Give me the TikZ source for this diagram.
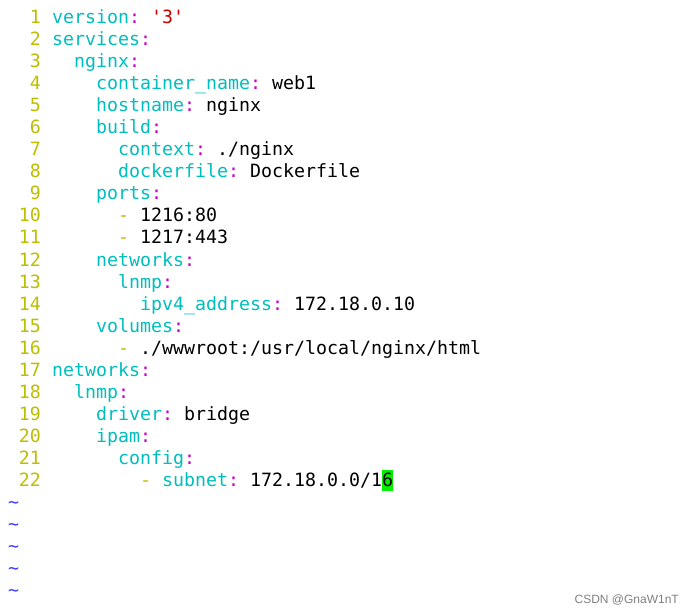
\documentclass[tikz,border=0pt]{standalone}
\usepackage{fontspec}
\setmonofont{DejaVu Sans Mono}
\setsansfont{Liberation Sans}
\definecolor{ky}{RGB}{0,190,190}
\definecolor{ln}{RGB}{190,190,0}
\definecolor{mg}{RGB}{200,0,200}
\definecolor{rd}{RGB}{200,0,0}
\definecolor{tl}{RGB}{60,60,255}
\definecolor{cur}{RGB}{0,240,0}
\newcommand{\Ky}[1]{\textcolor{ky}{#1}\textcolor{mg}{:}}
\newcommand{\Ds}{\textcolor{ln}{-}}
\begin{document}
\begin{tikzpicture}[x=1pt,y=-1pt,
  txt/.style={anchor=base west,inner sep=0pt,font=\ttfamily\fontsize{18.27}{22}\selectfont},
  num/.style={anchor=base east,inner sep=0pt,text=ln,font=\ttfamily\fontsize{18.27}{22}\selectfont}]
\useasboundingbox (0,0) rectangle (693,612);
\fill[white] (0,0) rectangle (693,612);
\fill[cur] (382,470) rectangle (393,491);
\foreach \i in {1,...,22}{\node[num] (n\i) at (41,{24+22*(\i-1)}) {\i};}
\newcommand{\Ln}[3]{\node[txt] (t#1) at ({52+11*#2},{24+22*(#1-1)}) {#3};}
\Ln{1}{0}{\Ky{version} \textcolor{rd}{'3'}}
\Ln{2}{0}{\Ky{services}}
\Ln{3}{2}{\Ky{nginx}}
\Ln{4}{4}{\Ky{container\_name} web1}
\Ln{5}{4}{\Ky{hostname} nginx}
\Ln{6}{4}{\Ky{build}}
\Ln{7}{6}{\Ky{context} ./nginx}
\Ln{8}{6}{\Ky{dockerfile} Dockerfile}
\Ln{9}{4}{\Ky{ports}}
\Ln{10}{6}{\Ds{} 1216:80}
\Ln{11}{6}{\Ds{} 1217:443}
\Ln{12}{4}{\Ky{networks}}
\Ln{13}{6}{\Ky{lnmp}}
\Ln{14}{8}{\Ky{ipv4\_address} 172.18.0.10}
\Ln{15}{4}{\Ky{volumes}}
\Ln{16}{6}{\Ds{} ./wwwroot:/usr/local/nginx/html}
\Ln{17}{0}{\Ky{networks}}
\Ln{18}{2}{\Ky{lnmp}}
\Ln{19}{4}{\Ky{driver} bridge}
\Ln{20}{4}{\Ky{ipam}}
\Ln{21}{6}{\Ky{config}}
\Ln{22}{8}{\Ds{} \Ky{subnet} 172.18.0.0/16}
\foreach \j in {0,...,4}{\node[txt,text=tl] (tl\j) at (8,{508+22*\j}) {\~{}};}
\node[anchor=base east,inner sep=0pt,text=gray,font=\sffamily\fontsize{12}{14}\selectfont] (wm) at (679,603) {CSDN @GnaW1nT};
\end{tikzpicture}
\end{document}
